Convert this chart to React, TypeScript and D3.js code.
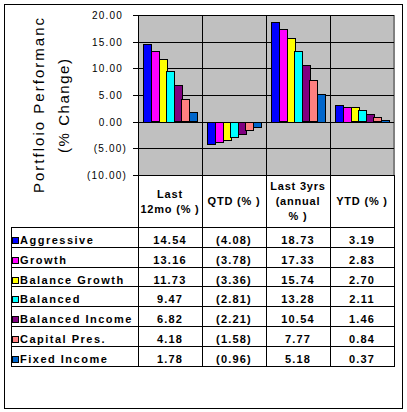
import React from 'react';
import * as d3 from 'd3';

// Portfolio returns by period
const seriesNames = ['Aggressive', 'Growth', 'Balance Growth', 'Balanced', 'Balanced Income', 'Capital Pres.', 'Fixed Income'];
const seriesColors = ['#0000FF', '#FF00FF', '#FFFF00', '#00FFFF', '#800080', '#FF8080', '#0066CC'];
const periodLabels = [['Last', '12mo (% )'], ['QTD (% )'], ['Last 3yrs', '(annual', '% )'], ['YTD (% )']];

const last12mo = [14.54, 13.16, 11.73, 9.47, 6.82, 4.18, 1.78];
const qtd = [-4.08, -3.78, -3.36, -2.81, -2.21, -1.58, -0.96];
const last3yrs = [18.73, 17.33, 15.74, 13.28, 10.54, 7.77, 5.18];
const ytd = [3.19, 2.83, 2.70, 2.11, 1.46, 0.84, 0.37];
const periodValues = [last12mo, qtd, last3yrs, ytd];

const yTicks = [-10, -5, 0, 5, 10, 15, 20];

const W = 407;
const H = 412;
const plot = { left: 138, right: 394, top: 15, bottom: 175 };
const table = { left: 11, top: 227, rowH: 19.8 };
const font = 'Arial, "Liberation Sans", sans-serif';

const fmt = (v: number) => (v < 0 ? `(${Math.abs(v).toFixed(2)})` : v.toFixed(2));
const px = (v: number) => Math.round(v) + 0.5;

export default function App() {
  const x = d3.scaleBand<number>().domain(d3.range(periodValues.length)).range([plot.left, plot.right]).padding(0);
  const xs = d3.scaleBand<number>().domain(d3.range(seriesNames.length)).range([0, x.bandwidth()])
    .paddingInner(0).paddingOuter(0.7);
  const y = d3.scaleLinear().domain([-10, 20]).range([plot.bottom, plot.top]);

  const tableBottom = table.top + table.rowH * seriesNames.length;
  const colEdges = [plot.left, ...d3.range(1, periodValues.length).map(i => x(i)!), plot.right];

  return (
    <svg width={W} height={H} style={{ position: 'absolute', left: 0, top: 0, background: '#fff' }}
      fontFamily={font} shapeRendering="crispEdges">
      <rect x={4.5} y={4.5} width={398} height={404} fill="#fff" stroke="#000" />

      {/* plot area */}
      <rect x={plot.left + 0.5} y={plot.top + 0.5} width={plot.right - plot.left - 1} height={plot.bottom - plot.top}
        fill="#C0C0C0" stroke="#808080" />

      {yTicks.map(t => (
        <g key={t}>
          <line x1={plot.left - 5} x2={plot.right} y1={px(y(t))} y2={px(y(t))} stroke="#000" />
          <text x={t < 0 ? 127 : 123} y={y(t) + 4} textAnchor="end" fontSize={10} letterSpacing={1.2}
            shapeRendering="auto">{fmt(t)}</text>
        </g>
      ))}

      {/* bars */}
      {periodValues.map((vals, p) => vals.map((v, s) => {
        const bx = x(p)! + xs(s)!;
        const y0 = y(0);
        const y1 = y(v);
        return (
          <rect key={`${p}-${s}`} x={Math.round(bx) + 0.5} y={Math.round(Math.min(y0, y1)) + 0.5}
            width={Math.round(xs.bandwidth())} height={Math.round(Math.abs(y1 - y0))}
            fill={seriesColors[s]} stroke="#000" />
        );
      }))}
      <line x1={plot.left} x2={plot.right} y1={px(y(0))} y2={px(y(0))} stroke="#000" />

      {/* column dividers through plot and table */}
      {colEdges.map((cx, i) => (
        <g key={i}>
          <line x1={px(cx)} x2={px(cx)} y1={plot.top} y2={plot.bottom}
            stroke={i === colEdges.length - 1 ? '#808080' : '#000'} />
          <line x1={px(cx)} x2={px(cx)} y1={plot.bottom} y2={tableBottom + 1} stroke="#000" />
        </g>
      ))}
      <line x1={px(table.left)} x2={px(table.left)} y1={table.top} y2={tableBottom + 1} stroke="#000" />

      {/* period headers */}
      {periodLabels.map((lines, p) => {
        const cx = x(p)! + x.bandwidth() / 2;
        const mid = (plot.bottom + table.top) / 2;
        const lh = 15;
        return lines.map((ln, k) => (
          <text key={`${p}-${k}`} x={cx} y={mid + (k - (lines.length - 1) / 2) * lh + 4} textAnchor="middle"
            fontSize={11} fontWeight="bold" letterSpacing={0.8} shapeRendering="auto">{ln}</text>
        ));
      })}

      {/* data table */}
      {d3.range(seriesNames.length + 1).map(r => (
        <line key={r} x1={table.left} x2={plot.right + 1} y1={px(table.top + r * table.rowH)}
          y2={px(table.top + r * table.rowH)} stroke="#000" />
      ))}
      {seriesNames.map((name, s) => {
        const top = table.top + s * table.rowH;
        return (
          <g key={name}>
            <rect x={12.5} y={Math.round(top + 10) + 0.5} width={6} height={6} fill={seriesColors[s]} stroke="#000" />
            <text x={20} y={top + 17} fontSize={11} fontWeight="bold" letterSpacing={1.5}
              shapeRendering="auto">{name}</text>
            {periodValues.map((vals, p) => (
              <text key={p} x={x(p)! + x.bandwidth() / 2} y={top + 17} textAnchor="middle" fontSize={11}
                fontWeight="bold" letterSpacing={1.2} shapeRendering="auto">{fmt(vals[s])}</text>
            ))}
          </g>
        );
      })}

      {/* axis title */}
      <text transform="translate(43.5,193) rotate(-90)" fontSize={15} textLength={175} lengthAdjust="spacing"
        shapeRendering="auto">Portfloio Performanc</text>
      <text transform="translate(68.5,106) rotate(-90)" textAnchor="middle" fontSize={15} textLength={94}
        lengthAdjust="spacing" shapeRendering="auto">(% Change)</text>
    </svg>
  );
}
